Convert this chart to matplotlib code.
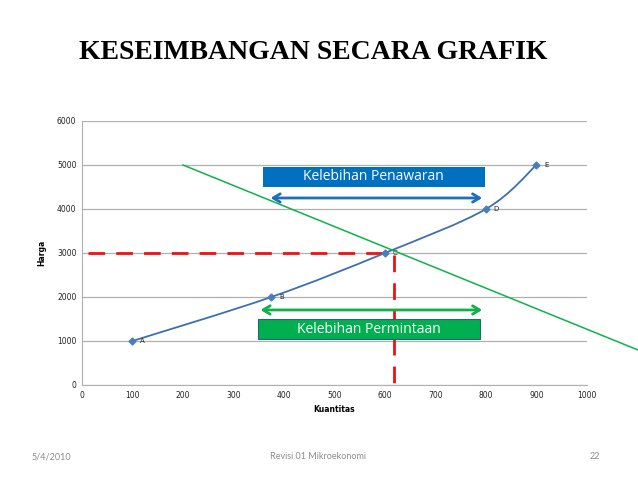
import numpy as np
import matplotlib.pyplot as plt
from matplotlib.path import Path
from matplotlib.patches import PathPatch, FancyArrowPatch

# supply points
qs = [100, 375, 600, 800, 900]
ps = [1000, 2000, 3000, 4000, 5000]
labels = ['A', 'B', 'C', 'D', 'E']

# demand line end points
qd = [200, 1100]
pd_ = [5000, 800]

# equilibrium guide lines
eq_price = 3000
eq_qty = 618

yticks = [0, 1000, 2000, 3000, 4000, 5000, 6000]
xticks = [0, 100, 200, 300, 400, 500, 600, 700, 800, 900, 1000]

fig = plt.figure(figsize=(6.38, 4.78), dpi=100)
ax = fig.add_axes([0.1285, 0.1946, 0.7915, 0.5523])
ax.set_xlim(0, 1000)
ax.set_ylim(0, 6000)
ax.set_xticks(xticks)
ax.set_yticks(yticks)
ax.tick_params(labelsize=5.5, length=0, pad=4, colors='#222222')
ax.yaxis.grid(True, color='#b0b0b0', lw=0.9)
ax.set_axisbelow(True)
for s in ['top', 'right']:
    ax.spines[s].set_visible(False)
for s in ['left', 'bottom']:
    ax.spines[s].set_color('#b0b0b0')
ax.set_xlabel('Kuantitas', fontsize=5.5, fontweight='bold', labelpad=4)
ax.set_ylabel('Harga', fontsize=5.5, fontweight='bold', labelpad=8)

# smoothed supply curve (Catmull-Rom -> bezier, like Excel's smooth line)
pts = np.column_stack([qs, ps]).astype(float)
verts = [pts[0]]
codes = [Path.MOVETO]
n = len(pts)
for i in range(n - 1):
    p0 = pts[i - 1] if i > 0 else pts[i]
    p1 = pts[i]
    p2 = pts[i + 1]
    p3 = pts[i + 2] if i + 2 < n else pts[i + 1]
    c1 = p1 + (p2 - p0) / 6
    c2 = p2 - (p3 - p1) / 6
    verts += [c1, c2, p2]
    codes += [Path.CURVE4] * 3
ax.add_patch(PathPatch(Path(verts, codes), fill=False, ec='#3c6fb4', lw=1.3, zorder=3))
ax.plot(qs, ps, ls='none', marker='D', ms=3.5, color='#4a7ebb', zorder=4)
for q, p, l in zip(qs, ps, labels):
    ax.text(q + 15, p, l, fontsize=5, va='center', ha='left', color='#222222')

# demand line
ax.plot(qd, pd_, color='#10b04a', lw=1.1, clip_on=False, zorder=3)

# red dashed guides
ax.plot([12, 600], [eq_price, eq_price], color='#ee1111', lw=2, dashes=(6, 4), zorder=2)
ax.plot([eq_qty, eq_qty], [2950, 0], color='#ee1111', lw=2, dashes=(6, 4), zorder=2, clip_on=False)

# excess supply
ax.add_patch(plt.Rectangle((358, 4500), 440, 455, fc='#0070c0', ec='none', zorder=5))
ax.text(578, 4727, 'Kelebihan Penawaran', color='white', fontsize=10,
        ha='center', va='center', family='Open Sans', zorder=6)
ax.add_patch(FancyArrowPatch((368, 4250), (798, 4250), arrowstyle='<->,head_length=5,head_width=3',
                             color='#1f6fb8', lw=2, zorder=5))

# excess demand
ax.add_patch(FancyArrowPatch((348, 1705), (798, 1705), arrowstyle='<->,head_length=5,head_width=3',
                             color='#10b04a', lw=2, zorder=5))
ax.add_patch(plt.Rectangle((348, 1045), 440, 455, fc='#00b050', ec='#2f5f7f', lw=0.8, zorder=5))
ax.text(568, 1272, 'Kelebihan Permintaan', color='white', fontsize=10,
        ha='center', va='center', family='Open Sans', zorder=6)

fig.text(0.491, 0.891, 'KESEIMBANGAN SECARA GRAFIK', fontsize=20, fontweight='heavy',
         family='Liberation Serif', ha='center', va='center')
fig.text(0.05, 0.044, '5/4/2010', fontsize=6.5, color='#8c8c8c', ha='left', va='center', family='Lato')
fig.text(0.498, 0.044, 'Revisi 01 Mikroekonomi', fontsize=6.5, color='#8c8c8c', ha='center', va='center', family='Lato')
fig.text(0.94, 0.044, '22', fontsize=6.5, color='#8c8c8c', ha='right', va='center', family='Lato')

fig.savefig('out.png', dpi=100)
